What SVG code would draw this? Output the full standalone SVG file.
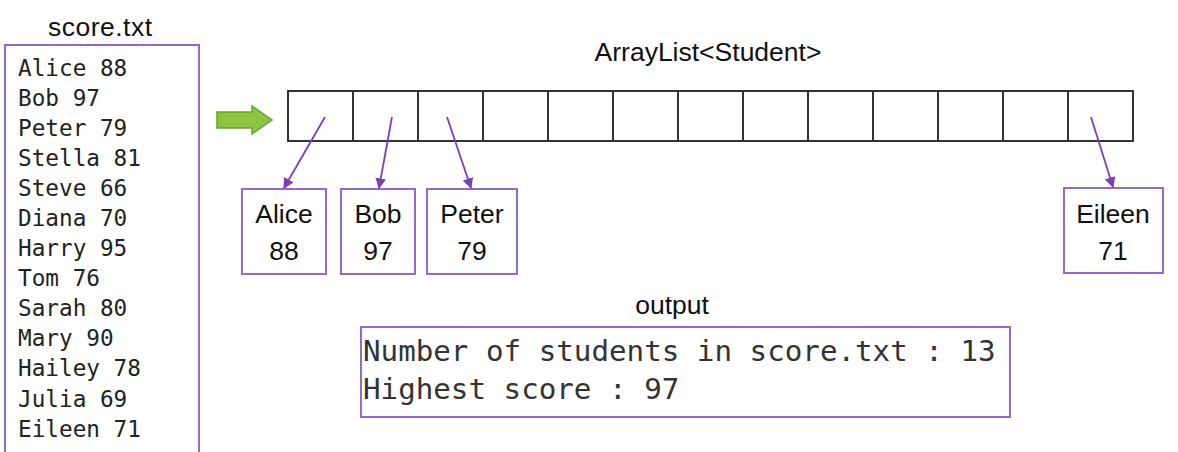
<svg xmlns="http://www.w3.org/2000/svg" width="1178" height="452" viewBox="0 0 1178 452">
<style>
.lbl{font-family:"Liberation Sans",Arial,sans-serif;font-size:26.5px;fill:#111;text-anchor:middle}
.mono{font-family:"DejaVu Sans Mono","Liberation Mono",monospace;font-size:22.7px;fill:#222}
.omono{font-family:"DejaVu Sans Mono","Liberation Mono",monospace;font-size:29.2px;fill:#333}
.box{fill:#fff;stroke:#9568cc;stroke-width:2}
.cell{fill:none;stroke:#333;stroke-width:2}
.conn{stroke:#7a3fb8;stroke-width:1.8;fill:none;marker-end:url(#ah)}
</style>
<defs>
<marker id="ah" viewBox="0 0 10 10" refX="9" refY="5" markerWidth="6" markerHeight="6" markerUnits="strokeWidth" orient="auto">
<path d="M0,0 L10,5 L0,10 z" fill="#7a3fb8"/>
</marker>
</defs>
<rect width="1178" height="452" fill="#fff"/>

<g id="scorefile">
<text class="lbl" x="100" y="36" textLength="104">score.txt</text>
<rect class="box" x="5" y="45" width="194" height="420"/>
<text class="mono" x="18" y="76">Alice 88</text>
<text class="mono" x="18" y="106">Bob 97</text>
<text class="mono" x="18" y="136">Peter 79</text>
<text class="mono" x="18" y="166">Stella 81</text>
<text class="mono" x="18" y="196">Steve 66</text>
<text class="mono" x="18" y="226">Diana 70</text>
<text class="mono" x="18" y="256">Harry 95</text>
<text class="mono" x="18" y="286">Tom 76</text>
<text class="mono" x="18" y="316">Sarah 80</text>
<text class="mono" x="18" y="346">Mary 90</text>
<text class="mono" x="18" y="376">Hailey 78</text>
<text class="mono" x="18" y="407">Julia 69</text>
<text class="mono" x="18" y="437">Eileen 71</text>
</g>

<g id="greenarrow">
<path d="M217,112 L252,112 L252,106 L272,120 L252,134 L252,128 L217,128 z" fill="#8cc540" stroke="#6f9e30" stroke-width="1.5"/>
</g>

<g id="arraylist">
<text class="lbl" x="708" y="61">ArrayList&lt;Student&gt;</text>
<rect class="cell" x="288" y="91" width="845" height="50"/>
<path class="cell" d="M353,91V141M418,91V141M483,91V141M548,91V141M613,91V141M678,91V141M743,91V141M808,91V141M873,91V141M938,91V141M1003,91V141M1068,91V141"/>
</g>

<g id="alice">
<rect class="box" x="242" y="189" width="84" height="85"/>
<text class="lbl" x="284" y="223">Alice</text>
<text class="lbl" x="284" y="260">88</text>
</g>
<g id="bob">
<rect class="box" x="341" y="189" width="74" height="85"/>
<text class="lbl" x="378" y="223">Bob</text>
<text class="lbl" x="378" y="260">97</text>
</g>
<g id="peter">
<rect class="box" x="427" y="189" width="90" height="85"/>
<text class="lbl" x="472" y="223">Peter</text>
<text class="lbl" x="472" y="260">79</text>
</g>
<g id="eileen">
<rect class="box" x="1064" y="188" width="99" height="85"/>
<text class="lbl" x="1113" y="223">Eileen</text>
<text class="lbl" x="1113" y="260">71</text>
</g>

<g id="connectors">
<line class="conn" x1="325" y1="117" x2="284" y2="188"/>
<line class="conn" x1="392" y1="117" x2="379" y2="188"/>
<line class="conn" x1="447" y1="117" x2="471" y2="188"/>
<line class="conn" x1="1091" y1="117" x2="1113" y2="187"/>
</g>

<g id="output">
<text class="lbl" x="672" y="314">output</text>
<rect class="box" x="361" y="327" width="649" height="90"/>
<text class="omono" x="363" y="361">Number of students in score.txt : 13</text>
<text class="omono" x="363" y="399">Highest score : 97</text>
</g>
</svg>
